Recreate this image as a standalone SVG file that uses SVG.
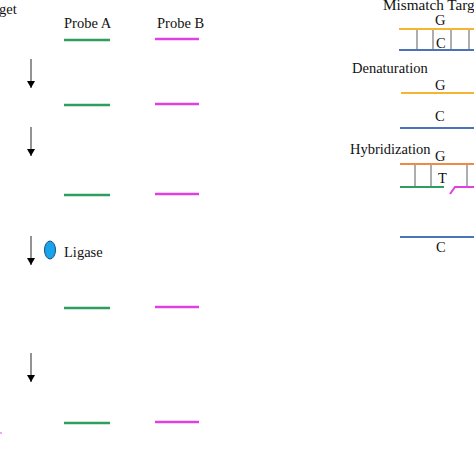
<svg xmlns="http://www.w3.org/2000/svg" width="474" height="474" viewBox="0 0 474 474">
<style>
text{font-family:"Liberation Serif","Times New Roman",serif;font-size:14.5px;fill:#111}
.g{stroke:#2e9e5e;stroke-width:2.5}
.m{stroke:#e040e0;stroke-width:2.5}
.ar{stroke:#6f6f6f;stroke-width:1.5}
.rung{stroke:#777;stroke-width:1.2}
.bl{stroke:#4a73b8;stroke-width:2}
.yo{stroke:#f5b530;stroke-width:2}
.or{stroke:#ee8a45;stroke-width:2}
</style>
<defs>
<marker id="ah" markerWidth="8" markerHeight="8" refX="7" refY="4" orient="auto" markerUnits="userSpaceOnUse" viewBox="0 0 8 8">
<path d="M0,0 L7,4 L0,8 Z" fill="#000"/>
</marker>
</defs>
<rect width="474" height="474" fill="#fff"/>
<g id="left-labels">
<text x="-1" y="14">get</text>
<text x="64" y="28">Probe A</text>
<text x="157" y="28">Probe B</text>
</g>
<g id="probes">
<line class="g" x1="64" y1="40" x2="110" y2="40"/>
<line class="m" x1="155" y1="39" x2="199" y2="39"/>
<line class="g" x1="64" y1="105" x2="110" y2="105"/>
<line class="m" x1="155" y1="104" x2="199" y2="104"/>
<line class="g" x1="64" y1="195" x2="110" y2="195"/>
<line class="m" x1="155" y1="194" x2="199" y2="194"/>
<line class="g" x1="64" y1="308" x2="110" y2="308"/>
<line class="m" x1="155" y1="307" x2="199" y2="307"/>
<line class="g" x1="64" y1="423" x2="110" y2="423"/>
<line class="m" x1="155" y1="422" x2="199" y2="422"/>
<line class="m" x1="0" y1="433" x2="2" y2="433" style="stroke-width:1.5;opacity:0.6"/>
</g>
<g id="connectors">
<line class="ar" x1="31" y1="59" x2="31" y2="88" marker-end="url(#ah)"/>
<line class="ar" x1="31" y1="127" x2="31" y2="156" marker-end="url(#ah)"/>
<line class="ar" x1="31" y1="236" x2="31" y2="265" marker-end="url(#ah)"/>
<line class="ar" x1="31" y1="353" x2="31" y2="382" marker-end="url(#ah)"/>
</g>
<g id="ligase">
<ellipse cx="50" cy="250" rx="5.5" ry="9" fill="#19a3ea" stroke="#1a4f7a" stroke-width="1"/>
<text x="64" y="257">Ligase</text>
</g>
<g id="mismatch">
<text x="383" y="10" style="font-size:15.2px">Mismatch Target</text>
<line class="rung" x1="417" y1="29" x2="417" y2="50"/>
<line class="rung" x1="433" y1="29" x2="433" y2="50"/>
<line class="rung" x1="451" y1="29" x2="451" y2="50"/>
<line class="rung" x1="469" y1="29" x2="469" y2="50"/>
<line class="yo" x1="399" y1="29" x2="474" y2="29"/>
<line class="bl" x1="399" y1="50" x2="474" y2="50"/>
<text x="435" y="25">G</text>
<text x="436" y="48">C</text>
</g>
<g id="denaturation">
<text x="352" y="73">Denaturation</text>
<text x="435" y="90">G</text>
<line class="yo" x1="401" y1="93" x2="474" y2="93"/>
<text x="435" y="121">C</text>
<line class="bl" x1="400" y1="128" x2="474" y2="128"/>
</g>
<g id="hybridization">
<text x="350" y="154">Hybridization</text>
<text x="435" y="161">G</text>
<line class="rung" x1="415" y1="164" x2="415" y2="187"/>
<line class="rung" x1="431" y1="164" x2="431" y2="187"/>
<line class="rung" x1="467" y1="164" x2="467" y2="187"/>
<line class="or" x1="400" y1="164" x2="474" y2="164"/>
<line class="g" x1="400" y1="187" x2="444" y2="187" style="stroke-width:2"/>
<polyline class="m" points="450,194 455,187 474,187" fill="none" style="stroke-width:2"/>
<text x="438" y="183">T</text>
<line class="bl" x1="400" y1="237" x2="474" y2="237"/>
<text x="436" y="252">C</text>
</g>
</svg>
